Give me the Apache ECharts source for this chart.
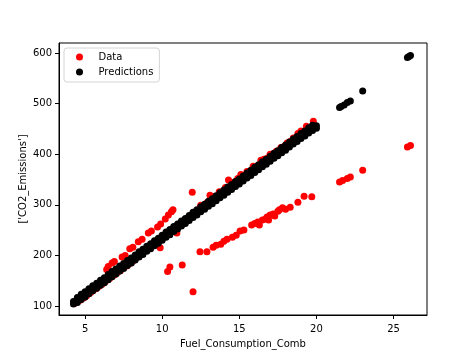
<!DOCTYPE html>
<html><head><meta charset="utf-8">
<script src="https://cdn.jsdelivr.net/npm/echarts@6/dist/echarts.min.js"></script>
<style>html,body{margin:0;padding:0;background:#fff}#c{width:474px;height:355px}</style>
</head><body><div id="c"></div><script>
const xTicks = [5, 10, 15, 20, 25];
const yTicks = [100, 200, 300, 400, 500, 600];
const xTitle = 'Fuel_Consumption_Comb';
const yTitle = "['CO2_Emissions']";
const seriesNames = ['Data', 'Predictions'];

// Observed data (red)
const dataX = [4.3,4.5,4.6,4.7,4.9,5.0,5.1,5.3,5.4,5.5,5.7,5.8,5.9,6.1,6.2,6.3,6.5,6.6,6.7,6.9,7.1,7.3,7.5,7.7,7.9,8.1,8.3,8.5,8.7,8.9,9.1,9.3,9.5,9.7,9.9,10.1,10.3,10.5,10.7,10.9,11.1,11.3,11.5,11.7,11.9,12.1,12.5,12.7,12.9,13.1,13.3,13.5,13.7,13.9,14.1,14.3,14.5,14.7,14.9,15.1,15.3,15.5,15.7,15.9,16.1,16.4,16.6,16.8,17.0,17.2,17.4,17.7,17.9,18.1,18.3,18.5,18.8,19.0,19.35,19.6,19.8,
  6.4,6.5,6.75,6.9,7.4,7.6,7.9,8.1,8.45,8.7,9.1,9.3,9.7,9.9,10.2,10.4,10.6,10.7,
  10.35,10.5,11.3,12.0,11.95,9.87,10.95,
  12.45,12.9,13.3,13.5,13.8,14.0,14.2,14.55,14.8,15.05,15.3,15.8,16.0,16.2,16.3,16.5,16.7,16.8,16.9,17.0,17.2,17.3,17.5,17.6,17.8,18.0,18.3,18.8,19.2,19.7,21.5,21.7,22.0,22.2,23.0,25.9,26.1];
const dataY = [105,108,111,112,116,119,120,125,128,130,134,137,139,143,146,148,153,155,158,161,166,170,176,179,184,189,195,198,204,209,214,218,224,229,233,238,243,247,253,256,262,266,270,275,280,284,299,298,304,319,316,317,326,326,334,349,342,345,352,360,358,366,366,376,376,388,390,392,400,401,406,413,415,422,425,432,441,446,455,449,465,
  172,178,185,188,197,200,213,216,227,232,244,248,256,262,272,280,286,290,
  168,177,181,128,325,215,244,
  207,207,216,220,222,228,232,236,240,248,250,260,263,266,260,270,272,276,270,280,282,278,287,290,294,291,295,305,317,316,345,348,352,355,368,414,417];

// Predictions (black): lower and upper edge of the band, plus isolated points
const predX = [4.25,4.5,4.75,5.0,5.25,5.5,5.75,6.0,6.25,6.5,6.75,7.0,7.25,7.5,7.75,8.0,8.25,8.5,8.75,9.0,9.25,9.5,9.75,10.0,10.25,10.5,10.75,11.0,11.25,11.5,11.75,12.0,12.25,12.5,12.75,13.0,13.25,13.5,13.75,14.0,14.25,14.5,14.75,15.0,15.25,15.5,15.75,16.0,16.25,16.5,16.75,17.0,17.25,17.5,17.75,18.0,18.25,18.5,18.75,19.0,19.25,19.5,19.75,20.0];
const predLo = [104,107,113,118,124,130,135,141,146,152,158,163,169,174,180,185,191,197,202,208,213,219,224,230,236,241,247,252,258,263,269,275,280,286,291,297,302,308,314,319,325,330,336,341,347,353,358,364,369,375,380,386,392,397,403,408,414,420,425,431,436,442,447,451];
const predHi = [109,117,123,128,134,140,145,151,156,162,168,173,179,184,190,195,201,207,212,218,223,229,234,240,246,251,257,262,268,273,279,285,290,296,301,307,312,318,324,329,335,340,346,351,357,363,368,374,379,385,390,396,402,407,413,418,424,430,435,441,446,452,457,456];
const predXExtra = [21.5,21.6,21.8,22.0,22.2,23.0,25.9,26.0,26.1];
const predYExtra = [492,494,497,502,505,525,591,593,595];

const font = 'DejaVu Sans';
const dataPts = dataX.map((x, i) => [x, dataY[i]]);
const predPts = predX.map((x, i) => [x, predLo[i]])
  .concat(predX.map((x, i) => [x, predHi[i]]))
  .concat(predXExtra.map((x, i) => [x, predYExtra[i]]));

const chart = echarts.init(document.getElementById('c'), null, {renderer: 'canvas'});
const axisCommon = {
  type: 'value',
  splitLine: {show: false},
  axisLine: {show: true, onZero: false, lineStyle: {color: '#000', width: 1}},
  nameTextStyle: {fontFamily: font, fontSize: 10, color: '#000'},
};
chart.setOption({
  animation: false,
  backgroundColor: '#fff',
  grid: {left: 59, right: 47, top: 43, bottom: 40, show: true, borderColor: '#000', borderWidth: 1, backgroundColor: 'transparent'},
  legend: {
    data: seriesNames, left: 64, top: 48, orient: 'vertical', icon: 'circle',
    itemWidth: 28, itemHeight: 7, itemGap: 3, padding: [3, 6, 4, 12],
    backgroundColor: '#fff', borderColor: '#d4d4d4', borderWidth: 1, borderRadius: 3,
    textStyle: {fontFamily: font, fontSize: 10, color: '#000', lineHeight: 12}
  },
  xAxis: Object.assign({}, axisCommon, {
    min: 3.31, max: 27.17,
    name: xTitle, nameLocation: 'middle', nameGap: 24,
    axisTick: {show: true, length: 4, inside: false, customValues: xTicks, lineStyle: {color: '#000'}},
    axisLabel: {customValues: xTicks, margin: 9, fontFamily: font, fontSize: 10, color: '#000'}
  }),
  yAxis: Object.assign({}, axisCommon, {
    min: 82.2, max: 619.7,
    name: yTitle, nameLocation: 'middle', nameGap: 31, nameMoveOverlap: false,
    axisTick: {show: true, length: 4, inside: false, customValues: yTicks, lineStyle: {color: '#000'}},
    axisLabel: {customValues: yTicks, margin: 7, fontFamily: font, fontSize: 10, color: '#000'}
  }),
  series: [
    {name: seriesNames[0], type: 'scatter', data: dataPts, symbolSize: 7,
     itemStyle: {color: '#ff0000', opacity: 1}, emphasis: {disabled: true}},
    {name: seriesNames[1], type: 'scatter', data: predPts, symbolSize: 7,
     itemStyle: {color: '#000000', opacity: 1}, emphasis: {disabled: true}}
  ]
});
</script></body></html>
